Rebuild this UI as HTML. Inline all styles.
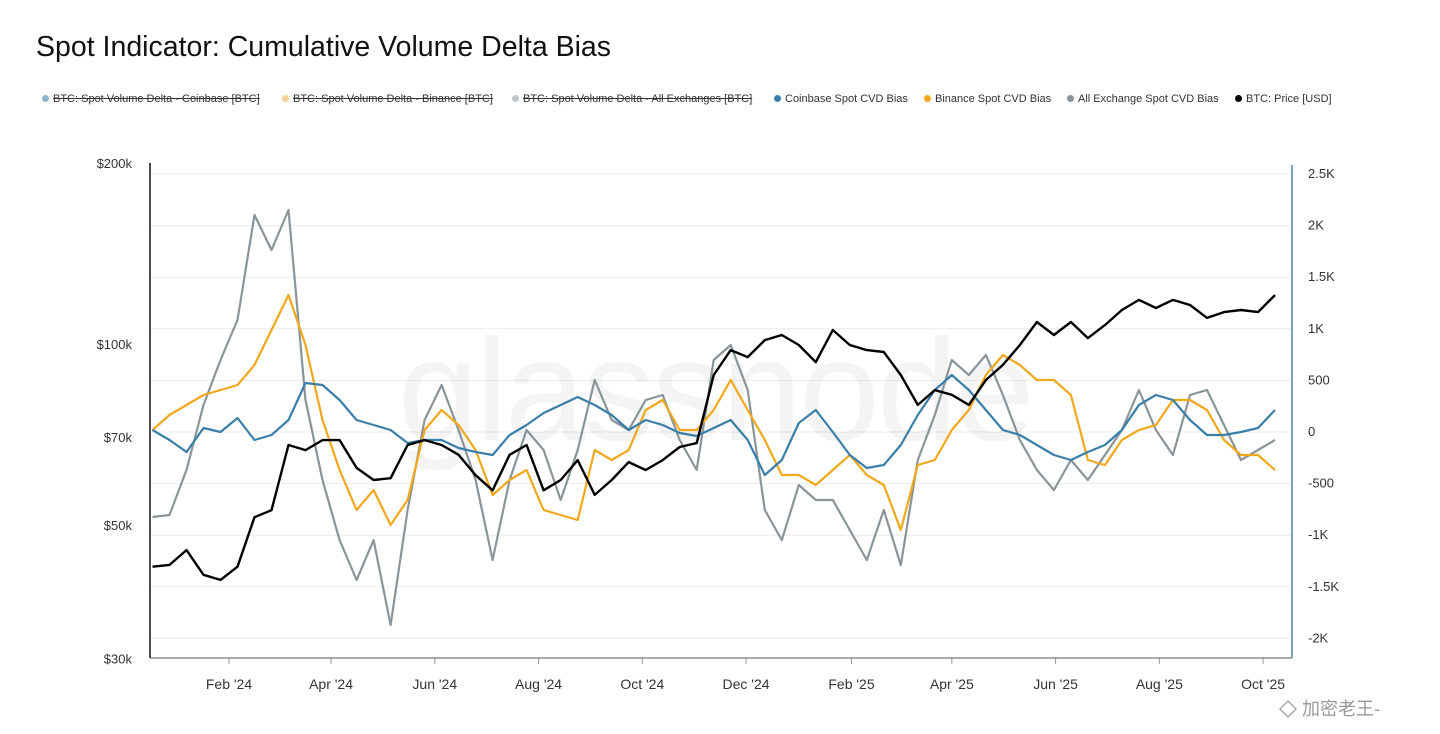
<!DOCTYPE html>
<html><head><meta charset="utf-8"><style>
html,body{margin:0;padding:0;background:#fff;width:1440px;height:734px;overflow:hidden;font-family:"Liberation Sans","Noto Sans CJK SC",sans-serif;}
#title{position:absolute;left:36px;top:31px;font-size:28.5px;color:#111;margin:0;font-weight:normal;}
.leg{position:absolute;top:93px;font-size:11px;color:#333;white-space:nowrap;}
.leg i{display:inline-block;width:7px;height:7px;border-radius:50%;margin-right:4px;vertical-align:0px;}
.off span{text-decoration:line-through;}
svg{position:absolute;left:0;top:0;}
</style></head><body>
<h1 id="title">Spot Indicator: Cumulative Volume Delta Bias</h1>
<div class="leg off" style="left:42px"><i style="background:#8fb5cc"></i><span>BTC: Spot Volume Delta - Coinbase [BTC]</span></div>
<div class="leg off" style="left:282px"><i style="background:#f3d391"></i><span>BTC: Spot Volume Delta - Binance [BTC]</span></div>
<div class="leg off" style="left:512px"><i style="background:#c2c6c9"></i><span>BTC: Spot Volume Delta - All Exchanges [BTC]</span></div>
<div class="leg" style="left:774px"><i style="background:#3a7fa8"></i><span>Coinbase Spot CVD Bias</span></div>
<div class="leg" style="left:924px"><i style="background:#f0a81c"></i><span>Binance Spot CVD Bias</span></div>
<div class="leg" style="left:1067px"><i style="background:#8a9499"></i><span>All Exchange Spot CVD Bias</span></div>
<div class="leg" style="left:1235px"><i style="background:#000"></i><span>BTC: Price [USD]</span></div>
<svg id="chart" width="1440" height="734"></svg>
<script>
const startDate = "2023-12-18";
const stepDays = 10;
const price = [42.6,42.9,45.4,41.3,40.5,42.6,51.5,52.9,67.9,66.6,69.2,69.2,62.2,59.4,59.8,67.9,69.2,67.9,65.4,60.5,57.1,65.4,67.9,57.1,59.4,64.1,56.1,59.4,63.6,61.7,64.1,67.4,68.4,88.8,97.7,95.1,101.5,103.5,99.6,93.3,105.5,99.6,97.7,97.0,88.8,79.2,83.8,82.3,79.2,87.1,92.3,99.6,108.8,103.5,108.8,102.3,107.5,113.9,118.4,114.8,118.4,116.1,110.5,113.0,113.9,113.0,120.6];
const coinbaseBias = [19,-78,-194,39,0,136,-78,-29,116,475,455,310,116,68,19,-107,-78,-78,-155,-194,-223,-29,68,184,262,339,262,165,19,116,68,-10,-39,39,116,-78,-417,-271,87,213,0,-223,-349,-320,-126,165,407,552,407,213,19,-29,-126,-223,-271,-194,-126,19,262,359,310,116,-29,-29,0,39,213];
const binanceBias = [19,165,262,359,407,455,649,988,1328,843,116,-368,-756,-562,-901,-659,19,213,68,-174,-610,-465,-368,-756,-804,-853,-174,-271,-174,213,310,19,19,213,504,213,-78,-417,-417,-514,-368,-223,-417,-514,-950,-320,-271,19,213,552,746,649,504,504,359,-271,-320,-78,19,68,310,310,213,-78,-223,-223,-368];
const allExchBias = [-824,-804,-368,262,698,1085,2103,1764,2151,310,-465,-1047,-1434,-1047,-1870,-756,116,455,19,-465,-1240,-465,19,-174,-659,-174,504,116,19,310,359,-78,-368,698,843,407,-756,-1047,-514,-659,-659,-950,-1240,-756,-1289,-271,165,698,552,746,359,-78,-368,-562,-271,-465,-223,19,407,19,-223,359,407,68,-271,-174,-78];
const leftTicks = [200,100,70,50,30];
const leftTickLabels = ["$200k","$100k","$70k","$50k","$30k"];
const rightTicks = [2500,2000,1500,1000,500,0,-500,-1000,-1500,-2000];
const rightTickLabels = ["2.5K","2K","1.5K","1K","500","0","-500","-1K","-1.5K","-2K"];
const monthTicks = ["2024-02-01","2024-04-01","2024-06-01","2024-08-01","2024-10-01","2024-12-01","2025-02-01","2025-04-01","2025-06-01","2025-08-01","2025-10-01"];
const monthLabels = ["Feb '24","Apr '24","Jun '24","Aug '24","Oct '24","Dec '24","Feb '25","Apr '25","Jun '25","Aug '25","Oct '25"];

const NS = "http://www.w3.org/2000/svg";
const svg = document.getElementById('chart');
const DAY = 86400000;
const ref = Date.UTC(2024,1,1);
function xScale(d){ return 229 + ((d - ref)/DAY)*1.7008; }
function yLeft(p){ return 344 - 601*Math.log10(p/100); }
function yRight(v){ return 432 - v*0.1032; }
function parse(s){ const a=s.split('-'); return Date.UTC(+a[0],+a[1]-1,+a[2]); }
const t0 = parse(startDate);
function dateAt(i){ return t0 + i*stepDays*DAY; }
function mk(tag, attrs){ const e=document.createElementNS(NS,tag); for(const k in attrs) e.setAttribute(k,attrs[k]); svg.appendChild(e); return e; }

rightTicks.forEach((v,i)=>{
  const g = mk('line',{x1:150,x2:1292,y1:yRight(v),y2:yRight(v),stroke:'#ececec','stroke-width':1});
  
  
  const t = mk('text',{x:1308,y:yRight(v)+4,'font-size':13,fill:'#333','font-family':'Liberation Sans, sans-serif'});
  t.textContent = rightTickLabels[i];
  
  
});
const wm = mk('text',{x:398,y:440,'font-size':145,fill:'#000','fill-opacity':0.045,'font-family':'Liberation Sans, sans-serif','letter-spacing':'-3'});
wm.textContent = 'glassnode';



leftTicks.forEach((p,i)=>{
  const t = mk('text',{x:132,y:yLeft(p)+5,'font-size':13,fill:'#333','text-anchor':'end','font-family':'Liberation Sans, sans-serif'});
  t.textContent = leftTickLabels[i];
  
  
});
monthTicks.forEach((m,i)=>{
  const x = xScale(parse(m));
  const tk = mk('line',{x1:x,x2:x,y1:658,y2:664,stroke:'#999'});
  
  
  const t = mk('text',{x:x,y:689,'font-size':14,fill:'#333','text-anchor':'middle','font-family':'Liberation Sans, sans-serif'});
  t.textContent = monthLabels[i];
  
  
});

function line(vals, yf, color, w, name){
  const d = vals.map((v,i)=>(i?'L':'M')+xScale(dateAt(i)).toFixed(1)+','+yf(v).toFixed(1)).join(' ');
  const p = mk('path',{d:d,fill:'none',stroke:color,'stroke-width':w,'stroke-linejoin':'round'});
  
  
}
line(allExchBias, yRight, '#8a9499', 2.2, 'all-exchange-cvd-bias-line');
line(binanceBias, yRight, '#f0a81c', 2.2, 'binance-cvd-bias-line');
line(coinbaseBias, yRight, '#3a7fa8', 2.2, 'coinbase-cvd-bias-line');
line(price, yLeft, '#000', 2.4, 'btc-price-line');

const la = mk('line',{x1:150,x2:150,y1:163,y2:658,stroke:'#111','stroke-width':1.5});


const ba = mk('line',{x1:150,x2:1292,y1:658,y2:658,stroke:'#555','stroke-width':1});


const ra = mk('line',{x1:1292,x2:1292,y1:165,y2:658,stroke:'#4a8bab','stroke-width':1.5});



const wm2 = mk('text',{x:1302,y:715,'font-size':18,fill:'#999','font-family':'Liberation Sans, Noto Sans CJK SC, sans-serif'});
wm2.textContent = '加密老王-';


const ic = mk('path',{d:'M1280 709 l8 -8 l8 8 l-8 8 z',fill:'none',stroke:'#aaa','stroke-width':1.5});


</script>
</body></html>
